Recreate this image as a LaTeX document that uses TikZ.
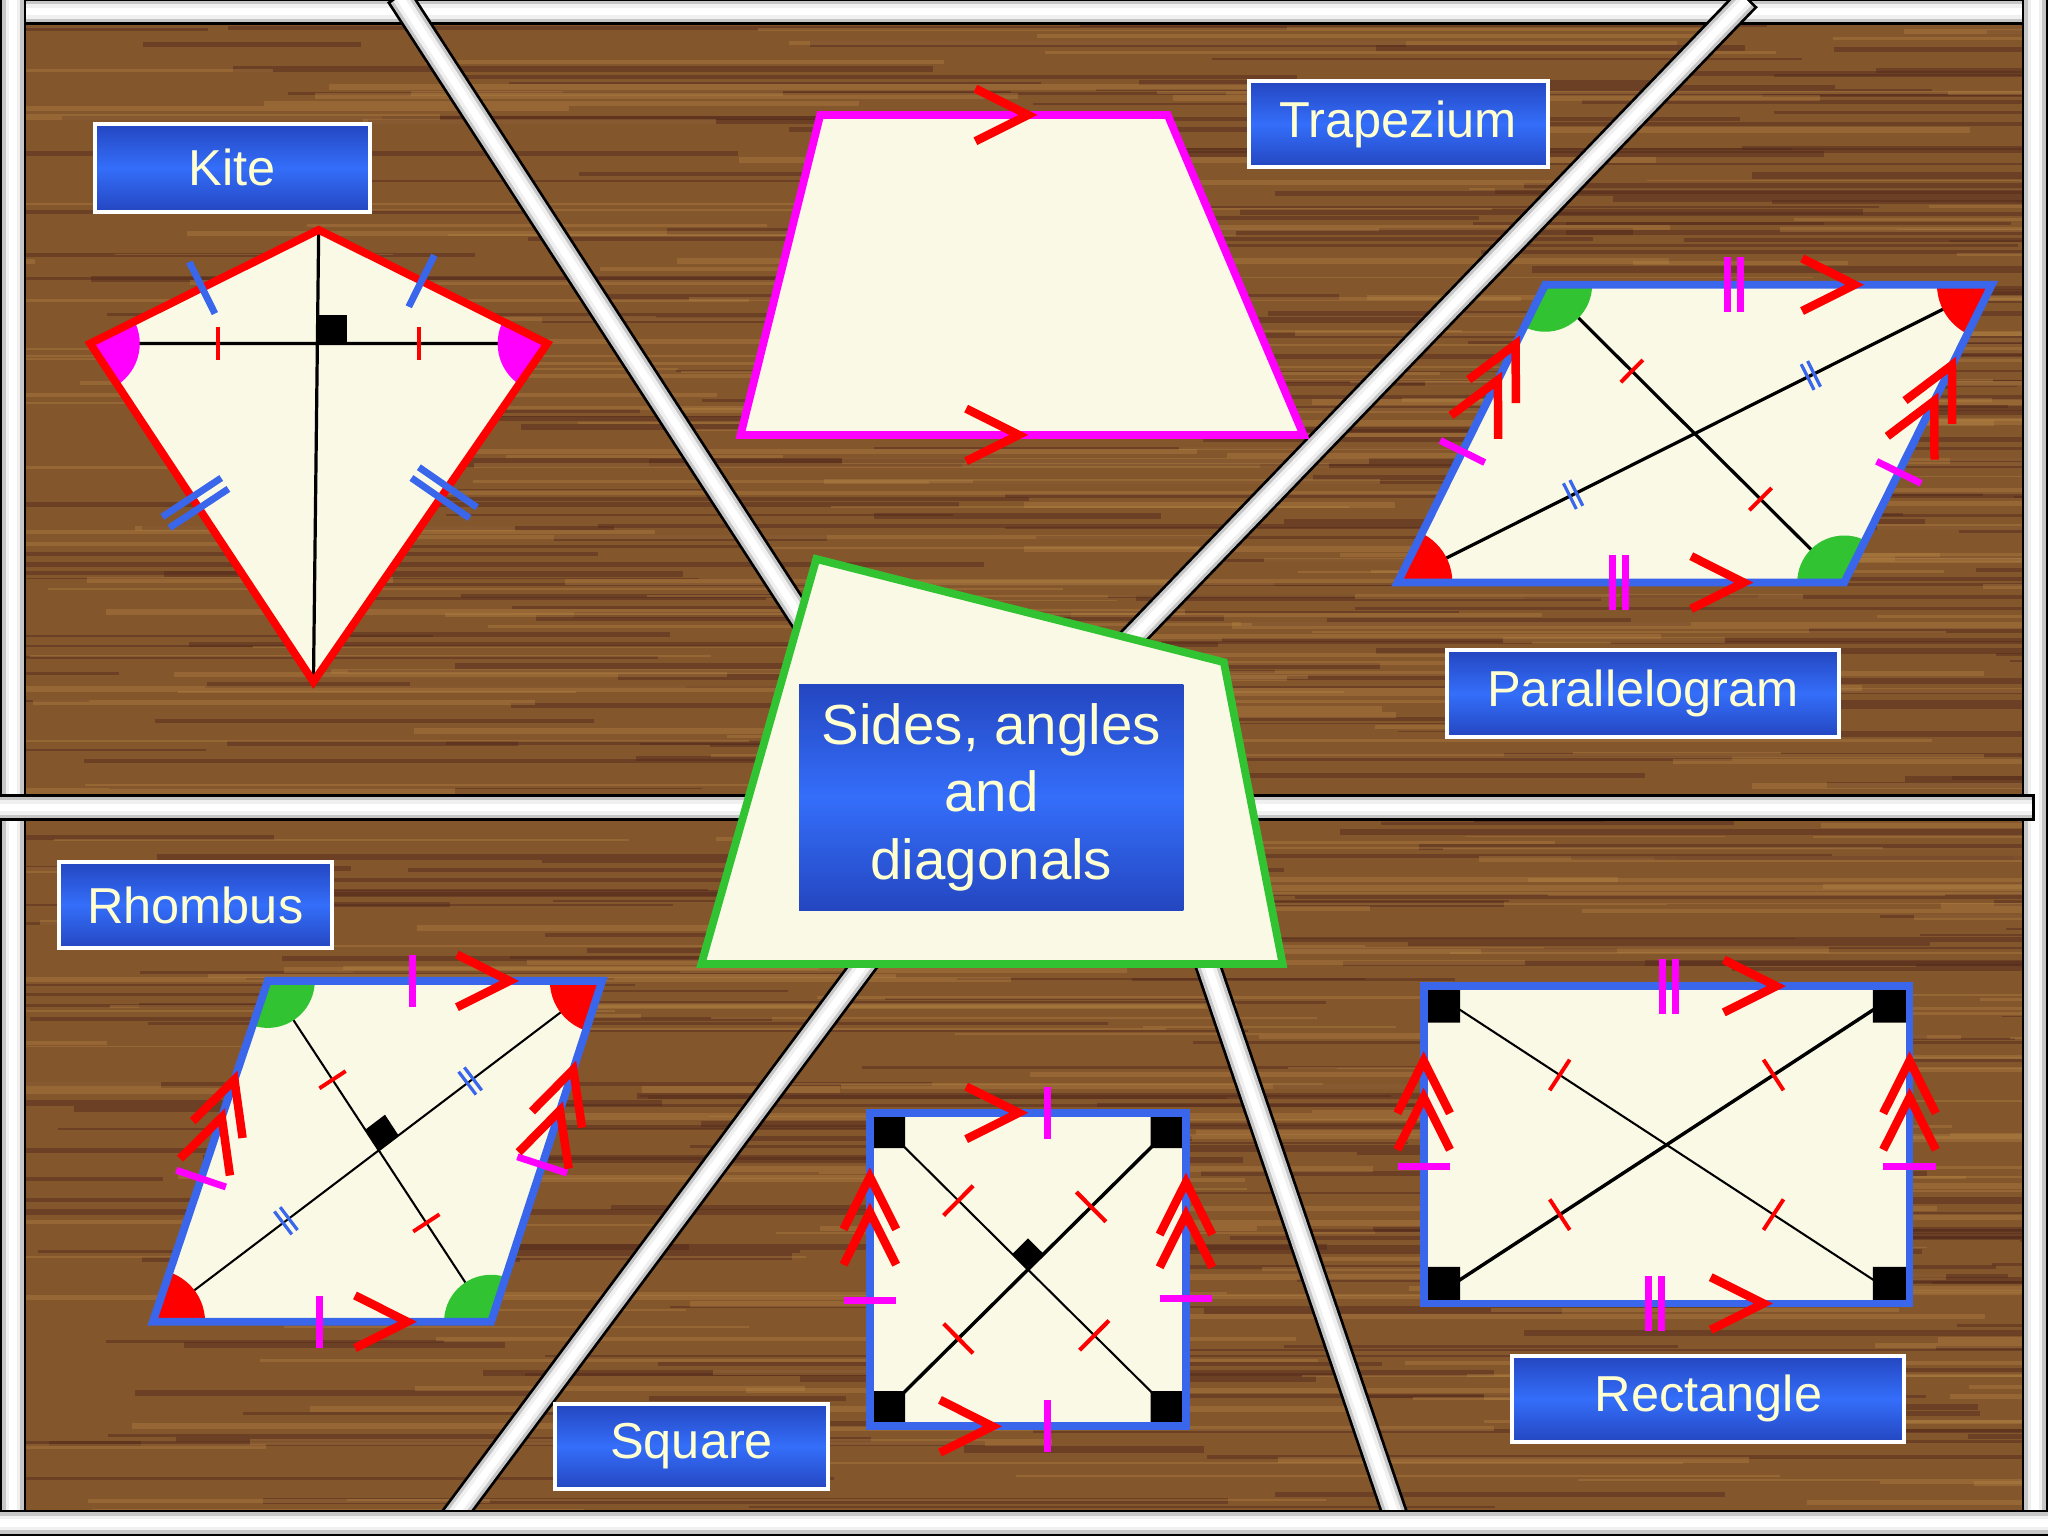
\documentclass[tikz,border=0pt]{standalone}
\usepackage{fontspec}
\setmainfont{Liberation Sans}
\usetikzlibrary{calc}
\definecolor{wd}{RGB}{132,86,44}
\definecolor{wdd}{RGB}{84,44,30}
\definecolor{wdl}{RGB}{186,136,72}
\definecolor{cr}{RGB}{250,249,230}
\definecolor{bl}{RGB}{58,102,235}
\definecolor{gn}{RGB}{50,195,50}
\definecolor{mg}{RGB}{255,0,255}
\definecolor{rd}{RGB}{255,0,0}
\definecolor{lbt}{RGB}{36,70,192}
\definecolor{lbm}{RGB}{52,110,250}
\definecolor{tx}{RGB}{255,255,208}
\tikzset{
    BR0/.style={line width=5.8pt,black},
    BR1/.style={line width=4.6pt,gray!45},
    BR2/.style={line width=3.2pt,gray!12},
    BR3/.style={line width=1.6pt,white},
    ED/.style={line width=1.7pt,line join=miter},
    DG/.style={line width=0.7pt,black},
    TK/.style={line width=1.5pt},
    CH/.style={rd,line width=1.85pt,line join=miter},
    LB/.style={rectangle,draw=white,line width=0.85pt,top color=lbt,bottom color=lbt,middle color=lbm,
        text=tx,inner sep=0pt,font=\fontsize{11}{13}\selectfont,align=center}}
\newcommand\TUBE[2]{%
    \draw[BR0,shorten <=-0.6pt,shorten >=-0.6pt] #1 -- #2;
    \draw[BR1] #1 -- #2;
    \draw[BR2] #1 -- #2;
    \draw[BR3] #1 -- #2;}
\newcommand\TKA[5]{%
    \coordinate (m) at ($(#2)!#4!(#3)$);
    \draw[TK,#1] ($(m)!#5!90:(#3)$) -- ($(m)!#5!-90:(#3)$);}
\newcommand\TKB[6]{%
    \TKA{#1}{#2}{#3}{#4}{#5}
    \coordinate (n) at ($(m)!#6!(#3)$);
    \draw[TK,#1] ($(n)!#5!90:(#3)$) -- ($(n)!#5!-90:(#3)$);}
\newcommand\CHA[3]{%
    \coordinate (m) at ($(#1)!#3!(#2)$);
    \draw[CH] ($(m)!0.45cm!153.4:(#2)$) -- (m) -- ($(m)!0.45cm!-153.4:(#2)$);}
\newcommand\CHB[4]{\CHA{#1}{#2}{#3}\CHA{#1}{#2}{#4}}
\begin{document}
\begin{tikzpicture}[x=0.01cm,y=-0.01cm]
        \useasboundingbox (0,0) rectangle (1568,1176);
        \fill[wd] (0,0) rectangle (1568,1176);
        \pgfmathsetseed{7}
        \foreach \i in {1,...,380}{
            \pgfmathsetmacro\yy{rnd*1176}
            \pgfmathsetmacro\xx{rnd*1700-150}
            \pgfmathsetmacro\ll{150+rnd*700}
            \pgfmathsetmacro\ww{0.3+rnd*1.1}
            \draw[wdd,line width=\ww pt,opacity=0.5] (\xx,\yy) -- ++(\ll,0);}
        \foreach \i in {1,...,320}{
            \pgfmathsetmacro\yy{rnd*1176}
            \pgfmathsetmacro\xx{rnd*1700-150}
            \pgfmathsetmacro\ll{150+rnd*700}
            \pgfmathsetmacro\ww{0.3+rnd*1.1}
            \draw[wdl,line width=\ww pt,opacity=0.35] (\xx,\yy) -- ++(\ll,0);}
        \TUBE{(0,9)}{(1568,9)}
        \TUBE{(10,0)}{(10,1176)}
        \TUBE{(1558,0)}{(1558,1176)}
        \TUBE{(700,687)}{(333,1180)}
        \TUBE{(908,690)}{(1075,1180)}
        \TUBE{(0,1166)}{(1568,1166)}
        \TUBE{(0,618)}{(1556,618)}
        \TUBE{(660,545)}{(306,-2)}
        \TUBE{(820,537)}{(1337,0)}
        \coordinate (KT) at (244,176);
        \coordinate (KR) at (419,263);
        \coordinate (KB) at (240,522);
        \coordinate (KL) at (69,263);
        \fill[cr] (KT) -- (KR) -- (KB) -- (KL) -- cycle;
        \draw[DG] (KT) -- (KB) (KL) -- (KR);
        \fill (243,241) rectangle (266,263);
        \begin{scope}
            \clip (KT) -- (KR) -- (KB) -- (KL) -- cycle;
            \fill[mg] (KL) circle[radius=38] (KR) circle[radius=38];
        \end{scope}
        \draw[ED,rd] (KT) -- (KR) -- (KB) -- (KL) -- cycle;
        \TKA{rd,line width=0.9pt}{KL}{KR}{0.28}{0.13cm}
        \TKA{rd,line width=0.9pt}{KL}{KR}{0.72}{0.13cm}
        \TKA{bl}{KL}{KT}{0.49}{0.22cm}
        \TKA{bl}{KR}{KT}{0.55}{0.22cm}
        \TKB{bl}{KL}{KB}{0.455}{0.27cm}{0.1cm}
        \TKB{bl}{KR}{KB}{0.425}{0.27cm}{0.1cm}
        \coordinate (TA) at (628,88);
        \coordinate (TB) at (894,88);
        \coordinate (TC) at (998,333);
        \coordinate (TD) at (567,333);
        \filldraw[ED,mg,fill=cr] (TA) -- (TB) -- (TC) -- (TD) -- cycle;
        \CHA{TA}{TB}{0.598}
        \CHA{TD}{TC}{0.494}
        \coordinate (PA) at (1183,218);
        \coordinate (PB) at (1525,218);
        \coordinate (PC) at (1412,446);
        \coordinate (PD) at (1070,446);
        \fill[cr] (PA) -- (PB) -- (PC) -- (PD) -- cycle;
        \draw[DG] (PA) -- (PC) (PD) -- (PB);
        \begin{scope}
            \clip (PA) -- (PB) -- (PC) -- (PD) -- cycle;
            \fill[gn] (PA) circle[radius=36] (PC) circle[radius=36];
            \fill[rd] (PB) circle[radius=42] (PD) circle[radius=42];
        \end{scope}
        \draw[ED,bl] (PA) -- (PB) -- (PC) -- (PD) -- cycle;
        \TKB{mg}{PA}{PB}{0.409}{0.21cm}{0.1cm}
        \CHA{PA}{PB}{0.693}
        \TKB{mg}{PD}{PC}{0.482}{0.21cm}{0.1cm}
        \CHA{PD}{PC}{0.775}
        \TKA{mg}{PD}{PA}{0.44}{0.19cm}
        \CHB{PD}{PA}{0.68}{0.80}
        \TKA{mg}{PC}{PB}{0.37}{0.19cm}
        \CHB{PC}{PB}{0.61}{0.73}
        \TKA{rd,line width=0.85pt}{PA}{PC}{0.29}{0.12cm}
        \TKA{rd,line width=0.85pt}{PA}{PC}{0.72}{0.12cm}
        \TKB{bl,line width=0.7pt}{PD}{PB}{0.29}{0.11cm}{0.055cm}
        \TKB{bl,line width=0.7pt}{PD}{PB}{0.69}{0.11cm}{0.055cm}
        \coordinate (RA) at (205,751);
        \coordinate (RB) at (461,751);
        \coordinate (RC) at (376,1012);
        \coordinate (RD) at (117,1012);
        \coordinate (RI) at (intersection of RA--RC and RD--RB);
        \fill[cr] (RA) -- (RB) -- (RC) -- (RD) -- cycle;
        \draw[DG,line width=0.45pt] (RA) -- (RC) (RD) -- (RB);
        \coordinate (r1) at ($(RI)!0.19cm!(RA)$);
        \coordinate (r2) at ($(RI)!0.19cm!(RB)$);
        \fill (RI) -- (r1) -- ($(r1)+(r2)-(RI)$) -- (r2) -- cycle;
        \begin{scope}
            \clip (RA) -- (RB) -- (RC) -- (RD) -- cycle;
            \fill[gn] (RA) circle[radius=36] (RC) circle[radius=36];
            \fill[rd] (RB) circle[radius=40] (RD) circle[radius=40];
        \end{scope}
        \draw[ED,bl] (RA) -- (RB) -- (RC) -- (RD) -- cycle;
        \TKA{mg}{RA}{RB}{0.434}{0.2cm}
        \CHA{RA}{RB}{0.723}
        \TKA{mg}{RD}{RC}{0.494}{0.2cm}
        \CHA{RD}{RC}{0.753}
        \TKA{mg}{RD}{RA}{0.42}{0.2cm}
        \CHB{RD}{RA}{0.60}{0.71}
        \TKA{mg}{RC}{RB}{0.46}{0.2cm}
        \CHB{RC}{RB}{0.62}{0.74}
        \TKA{rd,line width=0.85pt}{RA}{RC}{0.29}{0.12cm}
        \TKA{rd,line width=0.85pt}{RA}{RC}{0.71}{0.12cm}
        \TKB{bl,line width=0.7pt}{RD}{RB}{0.29}{0.11cm}{0.055cm}
        \TKB{bl,line width=0.7pt}{RD}{RB}{0.70}{0.11cm}{0.055cm}
        \coordinate (SA) at (666,852);
        \coordinate (SB) at (908,852);
        \coordinate (SC) at (908,1092);
        \coordinate (SD) at (666,1092);
        \coordinate (SI) at (intersection of SA--SC and SD--SB);
        \fill[cr] (SA) -- (SB) -- (SC) -- (SD) -- cycle;
        \draw[DG,line width=0.45pt] (SA) -- (SC);
        \draw[DG,line width=0.75pt] (SD) -- (SB);
        \coordinate (s1) at ($(SI)!0.17cm!(SA)$);
        \coordinate (s2) at ($(SI)!0.17cm!(SB)$);
        \fill (SI) -- (s1) -- ($(s1)+(s2)-(SI)$) -- (s2) -- cycle;
        \fill (SA) rectangle ++(27,27) (SB) rectangle ++(-27,27)
            (SC) rectangle ++(-27,-27) (SD) rectangle ++(27,-27);
        \draw[ED,bl] (SA) -- (SB) -- (SC) -- (SD) -- cycle;
        \CHA{SA}{SB}{0.471}
        \TKA{mg}{SA}{SB}{0.562}{0.2cm}
        \CHA{SD}{SC}{0.388}
        \TKA{mg}{SD}{SC}{0.562}{0.2cm}
        \CHB{SD}{SA}{0.683}{0.796}
        \TKA{mg}{SD}{SA}{0.40}{0.2cm}
        \CHB{SC}{SB}{0.675}{0.779}
        \TKA{mg}{SC}{SB}{0.408}{0.2cm}
        \TKA{rd,line width=0.9pt}{SA}{SC}{0.28}{0.16cm}
        \TKA{rd,line width=0.9pt}{SA}{SC}{0.71}{0.16cm}
        \TKA{rd,line width=0.9pt}{SD}{SB}{0.28}{0.16cm}
        \TKA{rd,line width=0.9pt}{SD}{SB}{0.70}{0.16cm}
        \coordinate (QA) at (1090,755);
        \coordinate (QB) at (1462,755);
        \coordinate (QC) at (1462,998);
        \coordinate (QD) at (1090,998);
        \fill[cr] (QA) -- (QB) -- (QC) -- (QD) -- cycle;
        \draw[DG,line width=0.45pt] (QA) -- (QC);
        \draw[DG,line width=0.75pt] (QD) -- (QB);
        \fill (QA) rectangle ++(28,28) (QB) rectangle ++(-28,28)
            (QC) rectangle ++(-28,-28) (QD) rectangle ++(28,-28);
        \draw[ED,bl] (QA) -- (QB) -- (QC) -- (QD) -- cycle;
        \TKB{mg}{QA}{QB}{0.492}{0.21cm}{0.1cm}
        \CHA{QA}{QB}{0.726}
        \TKB{mg}{QD}{QC}{0.462}{0.21cm}{0.1cm}
        \CHA{QD}{QC}{0.699}
        \CHB{QD}{QA}{0.650}{0.765}
        \TKA{mg}{QD}{QA}{0.432}{0.2cm}
        \CHB{QC}{QB}{0.650}{0.765}
        \TKA{mg}{QC}{QB}{0.432}{0.2cm}
        \TKA{rd,line width=0.85pt}{QA}{QC}{0.28}{0.14cm}
        \TKA{rd,line width=0.85pt}{QA}{QC}{0.72}{0.14cm}
        \TKA{rd,line width=0.85pt}{QD}{QB}{0.28}{0.14cm}
        \TKA{rd,line width=0.85pt}{QD}{QB}{0.72}{0.14cm}
        \coordinate (GA) at (625,428);
        \coordinate (GB) at (937,507);
        \coordinate (GC) at (982,738);
        \coordinate (GD) at (537,738);
        \filldraw[ED,gn,fill=cr] (GA) -- (GB) -- (GC) -- (GD) -- cycle;
        \node[LB,minimum width=2.10cm,minimum height=0.67cm] (kite) at (178,128.5) {Kite};
        \node[LB,minimum width=2.29cm,minimum height=0.66cm] (trap) at (1070.5,95) {Trapezium};
        \node[LB,minimum width=3.00cm,minimum height=0.66cm] (para) at (1258,531) {Parallelogram};
        \node[LB,minimum width=2.09cm,minimum height=0.66cm] (rhom) at (149.5,693) {Rhombus};
        \node[LB,minimum width=2.09cm,minimum height=0.65cm] (squa) at (529.5,1107.5) {Square};
        \node[LB,minimum width=3.00cm,minimum height=0.66cm] (rect) at (1308,1071) {Rectangle};
        \node[LB,minimum width=2.94cm,minimum height=1.73cm,draw=none,
            font=\fontsize{12.3}{14.8}\selectfont] (main) at (759,610.5) {Sides, angles\\and\\diagonals};
\end{tikzpicture}
\end{document}
